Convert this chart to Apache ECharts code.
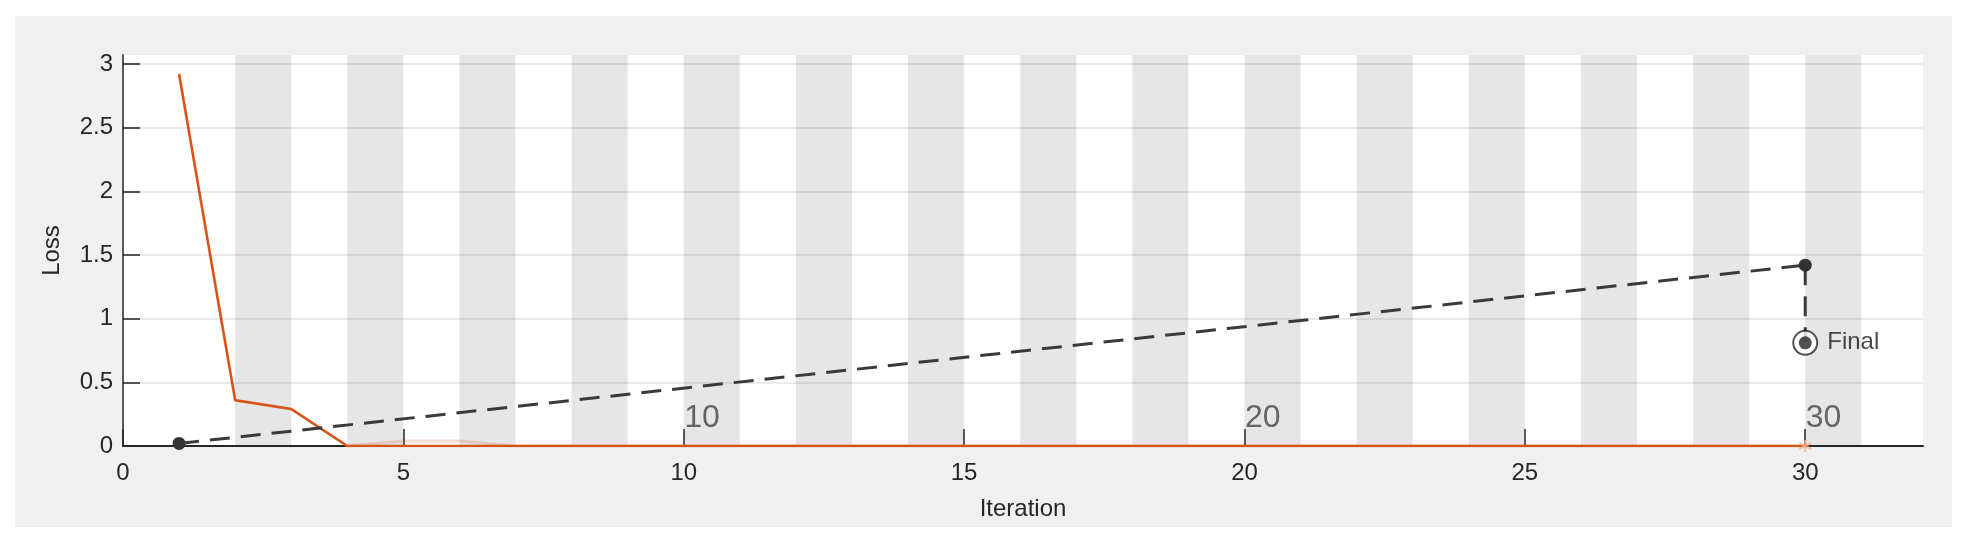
<!DOCTYPE html>
<html>
<head>
<meta charset="utf-8">
<script src="https://cdn.jsdelivr.net/npm/echarts@6/dist/echarts.min.js"></script>
<style>
  html, body { margin: 0; padding: 0; background: #ffffff; }
  #chart { width: 1971px; height: 549px; }
</style>
</head>
<body>
<div id="chart"></div>
<script>
// ---- data ----
const iterations = [1,2,3,4,5,6,7,8,9,10,11,12,13,14,15,16,17,18,19,20,21,22,23,24,25,26,27,28,29,30];
const smoothedLoss = [2.92,0.36,0.29,0,0,0,0,0,0,0,0,0,0,0,0,0,0,0,0,0,0,0,0,0,0,0,0,0,0,0];
const rawLoss      = [2.92,0.36,0.29,0,0.04,0.04,0,0,0,0,0,0,0,0,0,0,0,0,0,0,0,0,0,0,0,0,0,0,0,0];
const validationIter = [1, 30];
const validationLoss = [0.02, 1.42];
const finalIter = 30;
const finalLoss = 0.81;
const epochLabelIters = [10, 20, 30];
const epochBands = [[2,3],[4,5],[6,7],[8,9],[10,11],[12,13],[14,15],[16,17],[18,19],[20,21],[22,23],[24,25],[26,27],[28,29],[30,31]];
const xTicks = [0,5,10,15,20,25,30];
const yTicks = [0,0.5,1,1.5,2,2.5,3];
const xMax = 32.1;
const yMax = 3.07;

// ---- derived ----
const smoothedData = iterations.map((it, i) => [it, smoothedLoss[i]]);
const rawData = iterations.map((it, i) => [it, rawLoss[i]]);
const validData = validationIter.map((it, i) => [it, validationLoss[i]]);
const finalLine = [[finalIter, validationLoss[validationLoss.length - 1]], [finalIter, finalLoss]];

const FONT = "'Liberation Sans', Arial, Helvetica, sans-serif";
const ORANGE = '#D95319';
const DARK = '#3a3a3a';

const chart = echarts.init(document.getElementById('chart'), null, { renderer: 'canvas' });

const option = {
  animation: false,
  backgroundColor: '#ffffff',
  textStyle: { fontFamily: FONT },
  graphic: [{
    type: 'rect',
    z: -10,
    silent: true,
    shape: { x: 15, y: 16, width: 1937, height: 511 },
    style: { fill: '#f0f0f0' }
  }],
  grid: {
    left: 123, right: 48, top: 55, bottom: 103,
    show: true, backgroundColor: '#ffffff', borderWidth: 0
  },
  xAxis: {
    type: 'value',
    min: 0, max: xMax, interval: 5,
    z: 1.5,
    name: 'Iteration',
    nameLocation: 'middle',
    nameGap: 51,
    nameTextStyle: { fontSize: 24, color: '#262626', fontFamily: FONT },
    axisLine: { show: true, onZero: false, lineStyle: { color: '#262626', width: 2 } },
    axisTick: { show: true, inside: true, length: 17, customValues: xTicks, lineStyle: { color: '#262626', width: 1.5 } },
    axisLabel: { show: true, customValues: xTicks, margin: 15, fontSize: 24, color: '#262626', fontFamily: FONT },
    splitLine: { show: false }
  },
  yAxis: {
    type: 'value',
    min: 0, max: yMax, interval: 0.5,
    z: 1.5,
    name: 'Loss',
    nameLocation: 'middle',
    nameGap: 59,
    nameRotate: 90,
    nameTextStyle: { fontSize: 24, color: '#262626', fontFamily: FONT },
    axisLine: { show: true, lineStyle: { color: '#595959', width: 2 } },
    axisTick: { show: true, inside: true, length: 17, customValues: yTicks, lineStyle: { color: '#262626', width: 1.5 } },
    axisLabel: { show: true, customValues: yTicks, margin: 10, fontSize: 24, color: '#262626', fontFamily: FONT },
    splitLine: { show: false }
  },
  series: [
    {
      name: 'bands',
      type: 'line',
      data: [],
      z: 1,
      silent: true,
      markArea: {
        silent: true,
        itemStyle: { color: '#e6e6e6' },
        data: epochBands.map(b => [{ xAxis: b[0] }, { xAxis: b[1] }])
      }
    },
    {
      name: 'grid',
      type: 'line',
      data: [],
      z: 1.2,
      silent: true,
      markLine: {
        silent: true,
        symbol: ['none', 'none'],
        label: { show: false },
        lineStyle: { color: 'rgba(0,0,0,0.11)', width: 1.5, type: 'solid' },
        data: yTicks.filter(v => v > 0).map(v => ({ yAxis: v }))
      }
    },
    {
      name: 'raw',
      type: 'line',
      data: rawData,
      z: 3,
      symbol: 'none',
      lineStyle: { color: 'rgba(217,83,25,0.2)', width: 3 }
    },
    {
      name: 'smoothed',
      type: 'line',
      data: smoothedData,
      z: 4,
      symbol: 'none',
      lineStyle: { color: ORANGE, width: 2.5 }
    },
    {
      name: 'rawEnd',
      type: 'scatter',
      data: [rawData[rawData.length - 1]],
      z: 4,
      symbol: 'path://M5,0 L5,10 M0.7,2.5 L9.3,7.5 M0.7,7.5 L9.3,2.5',
      symbolSize: 12,
      itemStyle: { color: 'rgba(0,0,0,0)', borderColor: '#f5b49b', borderWidth: 2 }
    },
    {
      name: 'validation',
      type: 'line',
      data: validData,
      z: 5,
      symbol: 'circle',
      symbolSize: 13,
      itemStyle: { color: '#333333' },
      lineStyle: { color: DARK, width: 3, type: [20, 11] }
    },
    {
      name: 'finalDrop',
      type: 'line',
      data: finalLine,
      z: 5,
      symbol: 'none',
      lineStyle: { color: DARK, width: 3, type: [20, 11] }
    },
    {
      name: 'finalRing',
      type: 'scatter',
      data: [[finalIter, finalLoss]],
      z: 6,
      symbol: 'emptyCircle',
      symbolSize: 24,
      itemStyle: { color: '#262626', borderColor: '#262626', borderWidth: 2.5 },
      label: {
        show: true,
        formatter: 'Final',
        position: 'right',
        distance: 9,
        fontSize: 24,
        color: '#1a1a1a',
        fontFamily: FONT
      }
    },
    {
      name: 'finalDot',
      type: 'scatter',
      data: [[finalIter, finalLoss]],
      z: 7,
      symbol: 'circle',
      symbolSize: 13,
      itemStyle: { color: '#262626' }
    },
    {
      name: 'epochs',
      type: 'scatter',
      data: epochLabelIters.map(v => [v, 0]),
      z: 6,
      symbol: 'circle',
      symbolSize: 1,
      itemStyle: { color: 'rgba(0,0,0,0)' },
      label: {
        show: true,
        formatter: p => String(p.value[0]),
        position: [1, -27],
        align: 'left',
        verticalAlign: 'middle',
        fontSize: 32,
        color: '#444444',
        fontFamily: FONT
      }
    }
  ]
};

chart.setOption(option);
</script>
</body>
</html>
